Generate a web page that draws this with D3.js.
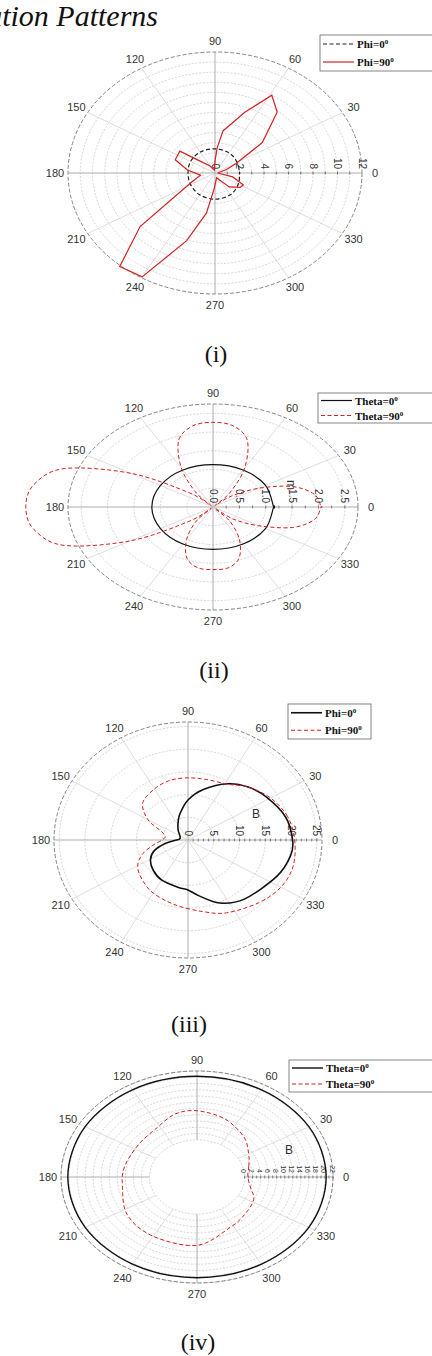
<!DOCTYPE html>
<html>
<head>
<meta charset="utf-8">
<script src="https://cdn.jsdelivr.net/npm/d3@7.9.0/dist/d3.min.js"></script>
<style>
  body { margin: 0; background: #fff; }
  svg { display: block; }
  .ang { font: 11px "Liberation Sans", Arial, sans-serif; fill: #333; }
  .rad { font: 10px "Liberation Sans", Arial, sans-serif; fill: #333; }
  .leg { font: bold 11px "Liberation Serif", "Times New Roman", serif; fill: #111; }
  .cap { font: 24px "Liberation Serif", "Times New Roman", serif; fill: #111; }
</style>
</head>
<body>
<svg id="chart" width="432" height="1356"></svg>
<script>
// (i) Phi=0 / Phi=90, radial 0..12
const anglesA0 = [0, 30, 60, 90, 120, 150, 180, 210, 240, 270, 300, 330, 360];
const valuesA0 = [2.0, 2.1, 2.3, 2.4, 2.4, 2.3, 2.2, 2.3, 2.5, 2.6, 2.5, 2.2, 2.0];
const anglesA1 = [0, 20, 29, 38, 50, 59, 68, 75, 81, 86, 90, 100, 120, 135, 143, 158, 172, 190, 205, 221, 230, 240, 251, 260, 268, 285, 310, 325, 333, 345, 360];
const valuesA1 = [0.2, 1, 2, 4.9, 7.9, 9, 6.5, 5, 4.25, 2.5, 1.2, 0.3, 0.8, 1.6, 3.6, 3.5, 2.3, 1.2, 2.1, 8.1, 12.1, 11.9, 7.1, 4.05, 1.5, 0.5, 1.8, 2.5, 2.6, 1.5, 0.2];
const ticksA = [0, 2, 4, 6, 8, 10, 12];

// (ii) Theta=0 / Theta=90, radial 0..2.75
const anglesB0 = d3.range(0, 361, 30);
const valuesB0 = [1.15, 1.15, 1.14, 1.13, 1.14, 1.15, 1.16, 1.15, 1.14, 1.13, 1.14, 1.15, 1.15];
const anglesB1 = [0, 10, 20, 30, 40, 45, 50, 60, 70, 80, 90, 100, 110, 120, 130, 135, 140, 150, 160, 170, 180, 190, 200, 210, 220, 225, 230, 240, 250, 260, 270, 280, 290, 300, 310, 315, 320, 330, 340, 350, 360];
const valuesB1 = [2.05, 1.95, 1.6, 1.0, 0.45, 0.05, 0.5, 1.2, 1.9, 2.2, 2.26, 2.2, 1.9, 1.2, 0.5, 0.05, 0.6, 1.8, 3.0, 3.45, 3.55, 3.45, 3.0, 1.8, 0.6, 0.05, 0.5, 1.0, 1.45, 1.65, 1.67, 1.65, 1.45, 1.0, 0.5, 0.05, 0.5, 1.0, 1.6, 1.95, 2.05];
const ticksB = ["0.0", "0.5", "1.0", "1.5", "2.0", "2.5"];

// (iii) Phi=0 / Phi=90, radial 0..26
const anglesC0 = [0, 15, 32, 45, 58, 75, 90, 105, 115, 130, 150, 170, 180, 190, 200, 211, 225, 240, 260, 270, 280, 294, 310, 335, 350];
const valuesC0 = [20.3, 19.6, 17.9, 16.5, 14.6, 11.5, 8.8, 6.0, 4.5, 3.0, 1.8, 1.6, 2.2, 4.5, 7, 8.5, 9.5, 10.2, 10.6, 11, 12.5, 15.2, 17, 19, 20.2];
const anglesC1 = [0, 15, 30, 45, 58, 75, 90, 105, 120, 137, 150, 160, 170, 180, 190, 200, 211, 225, 240, 260, 280, 295, 315, 330, 344];
const valuesC1 = [20.7, 20, 18.5, 16.5, 14.5, 13.8, 13.7, 13.6, 13, 12, 9, 5.5, 4.5, 5, 7, 9.5, 11.4, 12.5, 13.5, 14.5, 16, 17.7, 19.5, 20.8, 21.2];
const ticksC = [0, 5, 10, 15, 20, 25];

// (iv) Theta=0 / Theta=90, radial 0..22 with an inner hole
const anglesD0 = d3.range(0, 360, 30);
const valuesD0 = [20.3, 20.3, 20.3, 20.3, 20.3, 20.3, 20.3, 20.3, 20.3, 20.3, 20.3, 20.3];
const anglesD1 = [0, 15, 30, 48, 70, 90, 105, 122, 145, 170, 190, 215, 240, 270, 297, 315, 333, 345];
const valuesD1 = [0.8, 1.5, 3, 5.5, 8, 9.3, 9, 6.8, 6, 6.5, 7, 9.3, 10, 10, 6.25, 5, 4, 2];
const ticksD = [0, 2, 4, 6, 8, 10, 12, 14, 16, 18, 20, 22];

const angleLabels = [0, 30, 60, 90, 120, 150, 180, 210, 240, 270, 300, 330];
const captions = ["(i)", "(ii)", "(iii)", "(iv)"];

const svg = d3.select("#chart");
const RED = "#d42020";

svg.append("text")
  .attr("x", 158).attr("y", 26)
  .attr("text-anchor", "end")
  .style("font", "italic 30px 'Liberation Serif', 'Times New Roman', serif")
  .attr("fill", "#111")
  .text("Radiation Patterns");

function drawPolar(cfg) {
  const g = svg.append("g");
  const { cx, cy, rx, ry } = cfg;
  const r = d3.scaleLinear().domain(cfg.domain).range([cfg.hole || 0, 1]);
  const pt = (deg, v) => {
    const a = deg * Math.PI / 180;
    return [cx + rx * r(v) * Math.cos(a), cy - ry * r(v) * Math.sin(a)];
  };

  // rings
  cfg.rings.forEach(v => {
    g.append("ellipse")
      .attr("cx", cx).attr("cy", cy)
      .attr("rx", rx * r(v)).attr("ry", ry * r(v))
      .attr("fill", "none").attr("stroke", "#bbb")
      .attr("stroke-width", 0.6).attr("stroke-dasharray", "2,1.5");
  });
  g.append("ellipse")
    .attr("cx", cx).attr("cy", cy).attr("rx", rx).attr("ry", ry)
    .attr("fill", "none").attr("stroke", "#666")
    .attr("stroke-width", 0.8).attr("stroke-dasharray", "4,2");

  // spokes
  d3.range(0, 360, 30).forEach(deg => {
    const a = deg * Math.PI / 180;
    const h = cfg.hole || 0;
    g.append("line")
      .attr("x1", cx + rx * h * Math.cos(a)).attr("y1", cy - ry * h * Math.sin(a))
      .attr("x2", cx + rx * Math.cos(a)).attr("y2", cy - ry * Math.sin(a))
      .attr("stroke", deg % 90 === 0 ? "#999" : "#c8c8c8")
      .attr("stroke-width", deg % 90 === 0 ? 0.8 : 0.6);
  });

  // angle labels
  angleLabels.forEach(deg => {
    const a = deg * Math.PI / 180;
    g.append("text").attr("class", "ang")
      .attr("x", cx + (rx + 13) * Math.cos(a))
      .attr("y", cy - (ry + 11) * Math.sin(a) + 4)
      .attr("text-anchor", "middle")
      .text(deg);
  });

  // radial ticks (minor) and labels
  cfg.minor.forEach(v => {
    const x = cx + rx * r(v);
    g.append("line").attr("x1", x).attr("x2", x)
      .attr("y1", cy - 1.5).attr("y2", cy + 1.5)
      .attr("stroke", "#555").attr("stroke-width", 0.7);
  });
  cfg.ticks.forEach(t => {
    const x = cx + rx * r(+t);
    g.append("text").attr("class", "rad")
      .attr("transform", `translate(${x - 3.5},${cy - 4}) rotate(90)`)
      .attr("text-anchor", "end")
      .style("font-size", (cfg.tickSize || 10) + "px")
      .text(t);
  });
  if (cfg.unit) {
    g.append("text").attr("class", "rad")
      .attr("x", cfg.unit.x).attr("y", cfg.unit.y)
      .attr("transform", cfg.unit.rot ? `rotate(90,${cfg.unit.x},${cfg.unit.y})` : null)
      .style("font-size", "12px")
      .text(cfg.unit.t);
  }

  // series
  cfg.series.forEach(s => {
    const pts = s.angles.map((d, i) => pt(d, s.values[i]));
    g.append("path")
      .attr("d", d3.line().curve(s.curve)(pts))
      .attr("fill", "none")
      .attr("stroke", s.color)
      .attr("stroke-width", s.width || 1.2)
      .attr("stroke-dasharray", s.dash || null);
  });

  // legend
  const L = cfg.legend;
  const lg = g.append("g");
  lg.append("rect").attr("x", L.x).attr("y", L.y).attr("width", L.w).attr("height", L.h)
    .attr("fill", "#fff").attr("stroke", "#666").attr("stroke-width", 0.8);
  cfg.series.forEach((s, i) => {
    const y = L.y + L.h * (i + 0.5) / 2;
    lg.append("line").attr("x1", L.x + 3).attr("x2", L.x + 34)
      .attr("y1", y).attr("y2", y)
      .attr("stroke", s.color).attr("stroke-width", s.width || 1.2)
      .attr("stroke-dasharray", s.dash || null);
    const t = lg.append("text").attr("class", "leg").attr("x", L.x + 37).attr("y", y + 4);
    t.append("tspan").text(s.name);
    t.append("tspan").attr("dy", -4).style("font-size", "7px").text("0");
  });

  svg.append("text").attr("class", "cap")
    .attr("x", cx + 1).attr("y", cfg.capY)
    .attr("text-anchor", "middle").text(cfg.caption);
}

drawPolar({
  cx: 215, cy: 173, rx: 147, ry: 121, domain: [0, 12],
  rings: d3.range(1, 12), minor: d3.range(1, 12), ticks: ticksA,
  series: [
    { name: "Phi=0", angles: anglesA0, values: valuesA0, color: "#222", dash: "4,2.5", curve: d3.curveCardinalClosed },
    { name: "Phi=90", angles: anglesA1, values: valuesA1, color: RED, curve: d3.curveLinear }
  ],
  legend: { x: 320, y: 35, w: 116, h: 36 },
  capY: 362, caption: captions[0]
});

drawPolar({
  cx: 213, cy: 507, rx: 145, ry: 103, domain: [0, 2.75],
  rings: [0.5, 1, 1.5, 2, 2.5], minor: d3.range(0.25, 2.75, 0.25), ticks: ticksB,
  unit: { t: "m", x: 287, y: 480, rot: true },
  series: [
    { name: "Theta=0", angles: anglesB0, values: valuesB0, color: "#111", curve: d3.curveCardinalClosed },
    { name: "Theta=90", angles: anglesB1, values: valuesB1, color: RED, dash: "4,2.5", width: 1, curve: d3.curveCardinalClosed }
  ],
  legend: { x: 318, y: 393, w: 118, h: 30 },
  capY: 678, caption: captions[1]
});

drawPolar({
  cx: 188, cy: 840, rx: 134, ry: 118, domain: [0, 26],
  rings: [5, 10, 15, 20, 25], minor: d3.range(1, 26), ticks: ticksC,
  unit: { t: "B", x: 252, y: 818 },
  series: [
    { name: "Phi=0", angles: anglesC0, values: valuesC0, color: "#111", width: 1.6, curve: d3.curveCardinalClosed },
    { name: "Phi=90", angles: anglesC1, values: valuesC1, color: RED, dash: "4,2.5", width: 1, curve: d3.curveCardinalClosed }
  ],
  legend: { x: 288, y: 704, w: 83, h: 35 },
  capY: 1032, caption: captions[2]
});

drawPolar({
  cx: 197, cy: 1177, rx: 136, ry: 106, domain: [0, 22], hole: 0.35,
  rings: d3.range(0, 23, 2), minor: d3.range(0, 23), ticks: ticksD, tickSize: 7,
  unit: { t: "B", x: 285, y: 1154 },
  series: [
    { name: "Theta=0", angles: anglesD0, values: valuesD0, color: "#111", width: 1.4, curve: d3.curveCardinalClosed },
    { name: "Theta=90", angles: anglesD1, values: valuesD1, color: RED, dash: "4,2.5", width: 1, curve: d3.curveCardinalClosed }
  ],
  legend: { x: 289, y: 1060, w: 147, h: 32 },
  capY: 1350, caption: captions[3]
});
</script>
</body>
</html>
